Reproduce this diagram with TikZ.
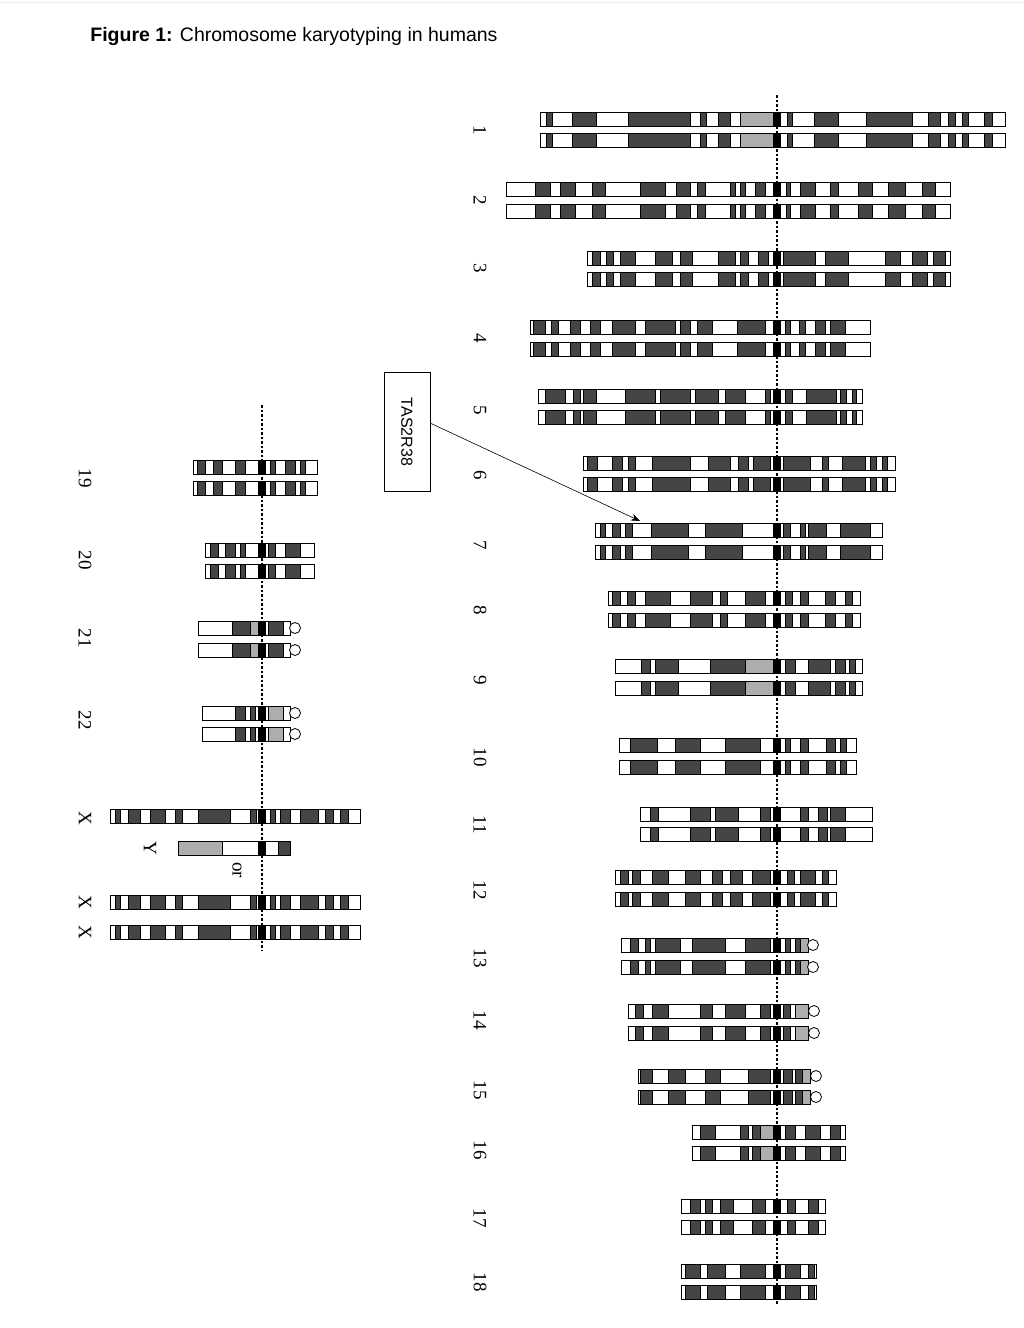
\documentclass[tikz,border=0pt]{standalone}
\usepackage{fontspec}
\setmainfont{Liberation Serif}
\newfontfamily\sansf{Liberation Sans}
\usetikzlibrary{arrows.meta}
\definecolor{dk}{gray}{0.27}
\definecolor{gr}{gray}{0.68}
\newcommand\chrow[6]{%
 \fill[white] (#2,#1) rectangle (#3,#1+14);
 \foreach \a/\b in {#4} {\fill[dk] (\a,#1) rectangle (\b,#1+14); \draw (\a,#1)--(\a,#1+14) (\b,#1)--(\b,#1+14);}
 \foreach \a/\b in {#5} {\fill[gr] (\a,#1) rectangle (\b,#1+14); \draw (\a,#1)--(\a,#1+14) (\b,#1)--(\b,#1+14);}
 \fill[black] (#6-4,#1) rectangle (#6+4,#1+14);
 \draw (#2,#1) rectangle (#3,#1+14);}
\newcommand\chpair[7]{\chrow{#1}{#3}{#4}{#5}{#6}{#7}\chrow{#2}{#3}{#4}{#5}{#6}{#7}}
\tikzset{lab/.style={font=\fontsize{19}{19}\selectfont, rotate=-90, inner sep=0pt}}
\begin{document}
\begin{tikzpicture}[x=1pt,y=-1pt,line width=0.8pt]
\useasboundingbox (0,0) rectangle (1024,1328);
\draw[gray!15] (0,2)--(1024,2);
\node[anchor=west,inner sep=0pt,font=\sansf\fontsize{19.5}{19.5}\selectfont] (title) at (90,36) {\textbf{Figure 1:} Chromosome karyotyping in humans};
\draw[dotted,line width=2.5pt] (777,95)--(777,1305);
\draw[dotted,line width=2.5pt] (262,405)--(262,950);
\chpair{112}{133}{540}{1005}{546/552,572/596,628/690,700/706,718/730,787/792,814/838,866/912,928/940,948/955,962/968,984/992}{740/773}{777}
\chpair{182}{204}{506}{950}{535/550,560/575,592/605,640/665,676/690,697/705,730/735,740/745,755/765,786/790,800/815,830/838,858/872,888/905,922/935}{506/506}{777}
\chpair{251}{272}{587}{950}{592/600,606/613,620/635,655/672,680/692,718/735,740/748,758/768,783/815,825/848,885/900,912/927,933/945}{587/587}{777}
\chpair{320}{342}{530}{870}{533/545,551/558,570/580,590/600,612/635,645/675,680/690,697/712,737/765,785/790,799/805,815/825,830/845}{530/530}{777}
\chpair{389}{410}{538}{862}{545/565,573/580,583/596,625/655,660/690,695/718,725/745,765/770,785/792,806/836,840/846,852/856}{538/538}{777}
\chpair{456}{477}{583}{895}{587/597,612/622,628/635,652/690,708/730,738/748,753/770,783/810,822/828,842/865,870/876,882/887}{583/583}{777}
\chpair{523}{545}{595}{882}{600/605,612/620,625/632,651/688,705/742,783/790,800/805,808/826,840/870}{595/595}{777}
\chpair{591}{613}{608}{860}{612/620,627/635,645/670,690/712,720/727,745/765,785/792,800/808,825/835,845/852}{608/608}{777}
\chpair{659}{681}{615}{862}{641/650,655/678,710/745,785/795,808/830,835/845,849/855}{745/773}{777}
\chpair{738}{760}{619}{856}{630/657,675/700,725/760,785/790,800/808,826/835,840/846}{619/619}{777}
\chpair{807}{827}{640}{872}{650/658,690/710,715/738,760/770,800/808,818/827,830/845}{640/640}{777}
\chpair{870}{892}{615}{836}{620/628,632/640,652/668,685/700,712/722,730/742,752/770,787/794,800/815,822/828}{615/615}{777}
\chpair{938}{960}{621}{808}{630/638,645/650,655/680,692/725,745/770,785/790,795/800}{800/808}{777}
\chpair{1004}{1026}{628}{808}{635/643,652/668,700/712,725/745,760/770,783/790}{795/808}{777}
\chpair{1069}{1090}{638}{810}{640/652,668/685,705/720,748/770,783/792,795/802}{802/810}{777}
\chpair{1125}{1146}{692}{845}{700/715,740/748,752/760,785/795,805/820,830/840}{760/773}{777}
\chpair{1199}{1220}{681}{825}{690/700,705/712,720/733,752/765,787/795,808/818}{681/681}{777}
\chpair{1264}{1285}{681}{816}{685/700,707/725,740/765,785/800,808/814}{681/681}{777}
\foreach \y/\x in {945/813,967/813,1011/814,1033/814,1076/816,1097/816}{\draw[fill=white] (\x,\y) circle (5.5);}
% left group
\chpair{460}{481}{193}{317}{197/205,213/222,235/245,270/275,285/295,300/305}{193/193}{262}
\chpair{543}{564}{205}{314}{210/218,225/235,240/245,268/275,285/300}{205/205}{262}
\chpair{621}{643}{198}{290}{232/250,268/283}{250/258}{262}
\chpair{706}{727}{202}{290}{235/245,250/255}{268/283}{262}
\foreach \y in {628,650,713,734}{\draw[fill=white] (295,\y) circle (5.5);}
\chrow{809}{110}{360}{115/120,128/140,150/165,175/182,198/230,250/256,270/275,280/290,300/318,325/333,340/348}{110/110}{262}
\chrow{841}{178}{290}{278/290}{178/222}{262}
\chrow{895}{110}{360}{115/120,128/140,150/165,175/182,198/230,250/256,270/275,280/290,300/318,325/333,340/348}{110/110}{262}
\chrow{925}{110}{360}{115/120,128/140,150/165,175/182,198/230,250/256,270/275,280/290,300/318,325/333,340/348}{110/110}{262}
% labels
\foreach \t/\y [count=\i] in {1/130,2/200,3/268,4/338,5/410,6/475,7/545,8/610,9/680,10/757,11/825,12/890,13/958,14/1020,15/1090,16/1150,17/1218,18/1282}{\node[lab] (n\i) at (480,\y) {\t};}
\foreach \t/\y [count=\i] in {19/478,20/560,21/638,22/720,X/818,X/902,X/932}{\node[lab] (m\i) at (85,\y) {\t};}
\node[lab] (ylab) at (150,848) {Y};
\node[lab] (orlab) at (237,870) {or};
\node[draw,rotate=-90,minimum width=119pt,minimum height=46pt,font=\sansf\fontsize{16}{16}\selectfont] (tas) at (407,432) {TAS2R38};
\coordinate (tgt) at (640,521);
\draw[-{Stealth[length=9pt,width=7pt]},line width=0.6pt] (430,423) -- (tgt);
\end{tikzpicture}
\end{document}
